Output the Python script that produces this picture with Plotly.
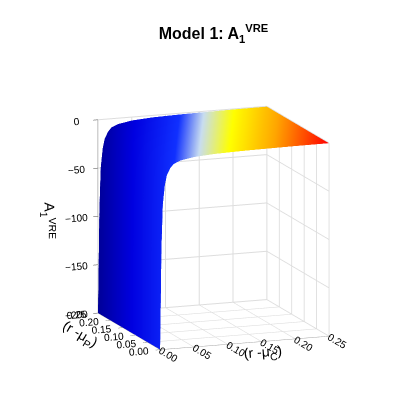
import plotly.graph_objects as go
import numpy as np

# r - mu_c (x axis)
x_vals = [0.0, 0.001, 0.002, 0.004, 0.007, 0.01, 0.015, 0.02, 0.03, 0.05, 0.08, 0.12, 0.16, 0.2, 0.25]
# r - mu_p (y axis)
y_vals = [0.0, 0.05, 0.10, 0.15, 0.20, 0.25]
# A1^VRE profile along x (nearly the same for every y)
z_profile = [-200, -150, -95, -50, -30, -20, -13, -9, -6, -3.5, -2, -1.2, -0.8, -0.5, -0.3]
x_ticks = [0, 0.05, 0.10, 0.15, 0.20, 0.25]
y_ticks = [0, 0.05, 0.10, 0.15, 0.20, 0.25]
z_ticks = [-200, -150, -100, -50, 0]

X = np.array(x_vals)
Y = np.array(y_vals)
Z = np.array([z_profile for _ in y_vals])
C = X[None, :] - 0.4 * Y[:, None]

colorscale = [[0, "#00007f"], [0.2, "#0000e0"], [0.38, "#1030ff"], [0.48, "#c8ddf0"],
              [0.6, "#ffff00"], [0.78, "#ffa500"], [1, "#ff0000"]]

fig = go.Figure(go.Surface(x=X, y=Y, z=Z, surfacecolor=C, colorscale=colorscale,
                           cmin=-0.12, cmax=0.25, showscale=False,
                           lighting=dict(ambient=1, diffuse=0, specular=0, fresnel=0)))

ax = dict(showbackground=False, gridcolor="#dddddd", linecolor="#999999", showline=True,
          tickfont=dict(size=11, color="black"), ticks="outside", zeroline=False)
fig.update_layout(
    width=411, height=400, paper_bgcolor="white",
    margin=dict(l=0, r=0, t=40, b=0),
    title=dict(text="<b>Model 1: A<sub>1</sub><sup>VRE</sup></b>", x=0.5, y=0.95,
               font=dict(family="Liberation Sans", size=16, color="black")),
    font=dict(family="Liberation Sans", color="black"),
    scene=dict(
        xaxis=dict(ax, title=dict(text="(r -μ<sub>C</sub>)"), range=[0, 0.25], tickvals=x_ticks,
                   ticktext=["0.00", "0.05", "0.10", "0.15", "0.20", "0.25"]),
        yaxis=dict(ax, title=dict(text="(r -μ<sub>P</sub>)"), range=[0, 0.25], tickvals=y_ticks,
                   ticktext=["0.00", "0.05", "0.10", "0.15", "0.20", "0.25"]),
        zaxis=dict(ax, title=dict(text="A<sub>1</sub><sup>VRE</sup>"), range=[-200, 0], tickvals=z_ticks),
        aspectmode="manual", aspectratio=dict(x=1, y=1, z=1.1),
        camera=dict(eye=dict(x=-0.7, y=-1.9, z=0.45), projection=dict(type="orthographic")),
    ),
)
fig.write_html("out.html")
